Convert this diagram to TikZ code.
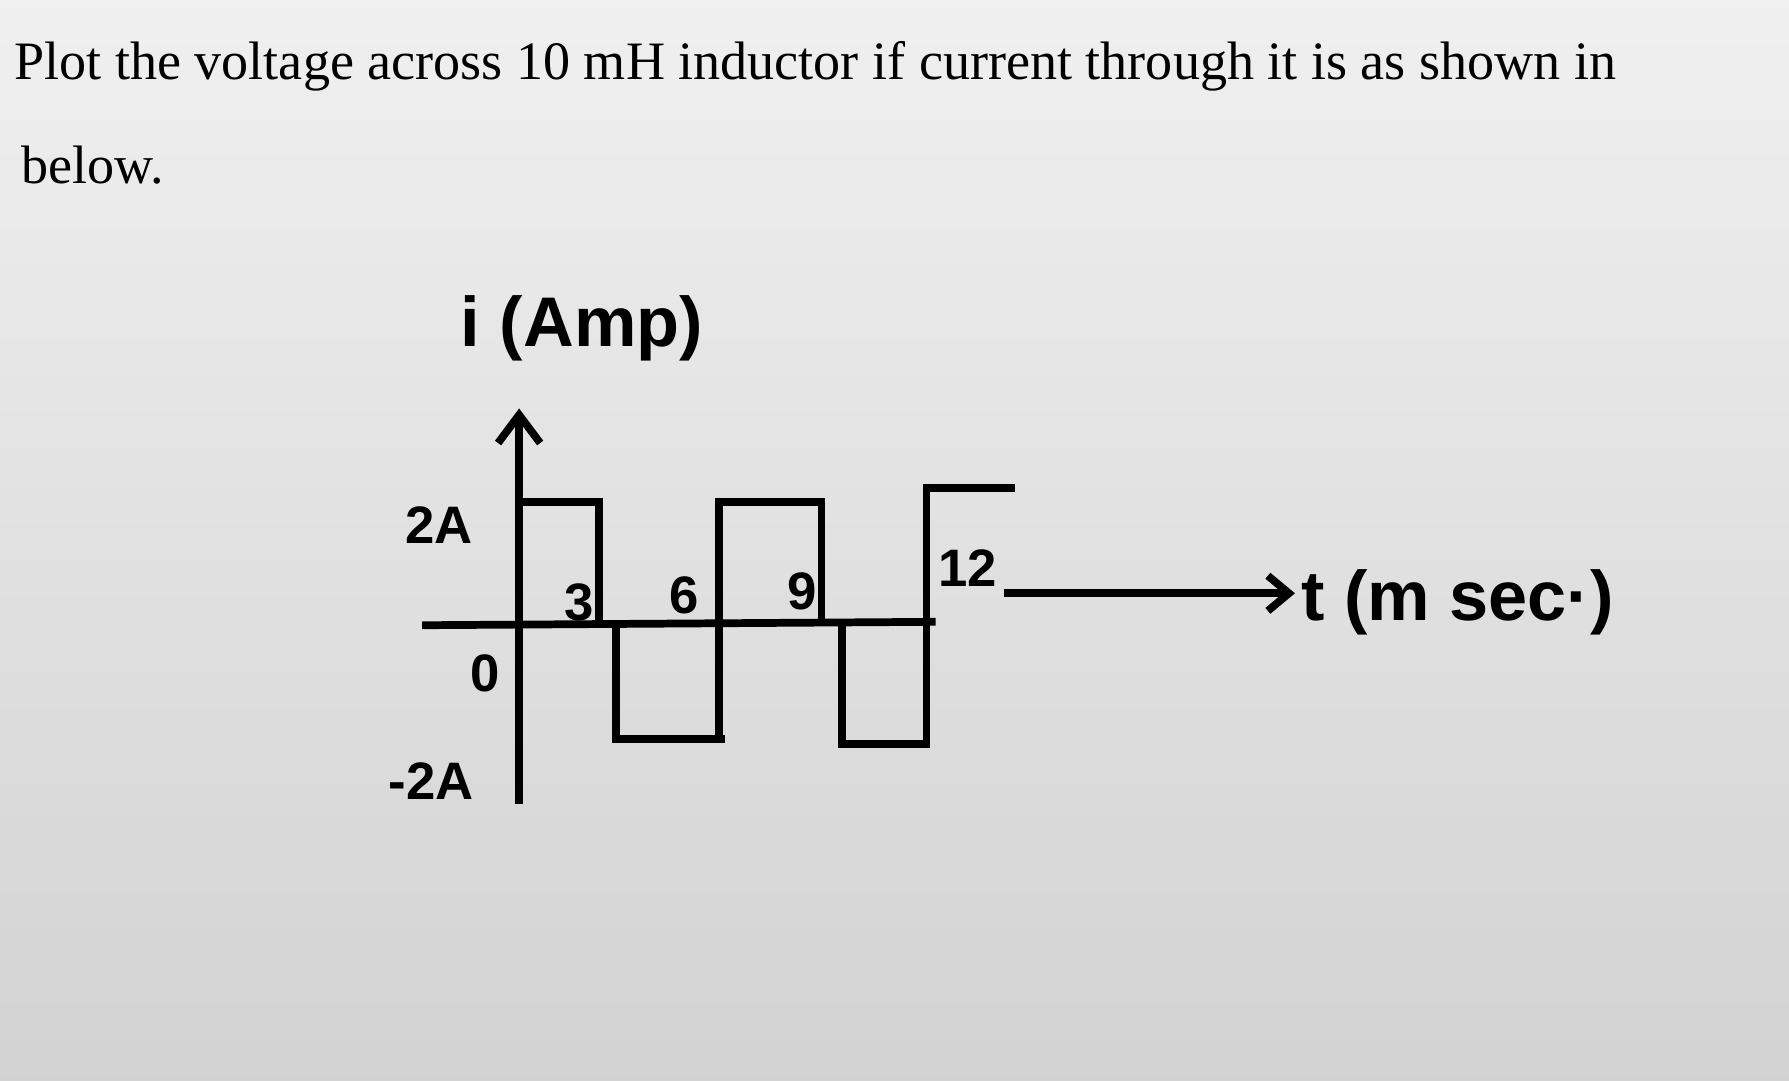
\documentclass[tikz,border=0pt]{standalone}
\usetikzlibrary{arrows.meta}
\usepackage{fontspec}
\setmainfont{Liberation Serif}
\newfontfamily\hand{Liberation Sans}
\begin{document}
\begin{tikzpicture}[x=0.01141cm,y=-0.01141cm,
  wave/.style={line width=2.2pt,black},
  lab/.style={font=\hand\bfseries\fontsize{15}{18}\selectfont,inner sep=0pt}]
\shade[top color=gray!12,bottom color=gray!35] (0,0) rectangle (1568,947);
\useasboundingbox (0,0) rectangle (1568,947);
\node[anchor=west,inner sep=0pt,font=\fontsize{15.4}{18}\selectfont] (t1) at (12,58) {Plot the voltage across 10 mH inductor if current through it is as shown in};
\node[anchor=west,inner sep=0pt,font=\fontsize{15.4}{18}\selectfont] (t2) at (18,145) {below.};
% axes
\coordinate (yb) at (455,705); \coordinate (yt) at (455,358);
\draw[wave,-{Straight Barb[length=8pt,width=12pt]}] (yb) -- (yt);
\coordinate (xa) at (370,548); \coordinate (xb) at (820,545);
\draw[wave] (xa) -- (xb);
\coordinate (xc) at (880,520); \coordinate (xd) at (1135,520);
\draw[wave,-{Straight Barb[length=6pt,width=10pt]}] (xc) -- (xd);
% waveform
\draw[wave] (455,440) -- (525,440) -- (525,548);
\draw[wave] (540,548) -- (540,648) -- (635,648);
\draw[wave] (630,648) -- (630,440) -- (720,440) -- (720,548);
\draw[wave] (738,548) -- (738,652) -- (812,652) -- (812,428) -- (890,428);
% labels
\node[lab] (l2a) at (385,460) {2A};
\node[lab] (l0) at (425,590) {0};
\node[lab] (lm2a) at (378,685) {-2A};
\node[lab] (l3) at (508,528) {3};
\node[lab] (l6) at (600,522) {6};
\node[lab] (l9) at (703,518) {9};
\node[lab] (l12) at (848,498) {12};
\node[lab,font=\hand\bfseries\fontsize{20}{22}\selectfont] (li) at (510,288) {i (Amp)};
\node[lab,font=\hand\bfseries\fontsize{20}{22}\selectfont,anchor=west] (lt) at (1140,528) {t (m sec·)};
\end{tikzpicture}
\end{document}
